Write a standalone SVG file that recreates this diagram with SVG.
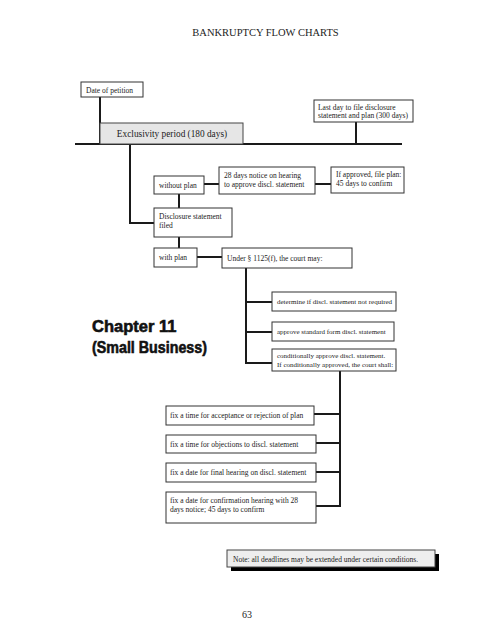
<svg xmlns="http://www.w3.org/2000/svg" width="495" height="640" viewBox="0 0 495 640">
<style>
.box{fill:#fff;stroke:#333;stroke-width:1}
.t{font-family:"Liberation Serif",serif;font-size:7.5px;fill:#222}
.s{font-size:7px}
.c{fill:none;stroke:#1a1a1a;stroke-width:2}
</style>
<rect width="495" height="640" fill="#fff"/>
<text x="265.5" y="36" text-anchor="middle" font-family="Liberation Serif, serif" font-size="10.5" fill="#222">BANKRUPTCY FLOW CHARTS</text>
<g id="connectors">
<line class="c" x1="75" y1="144" x2="402" y2="144" stroke-width="3"/>
<line class="c" x1="100" y1="97" x2="100" y2="144"/>
<line class="c" x1="356" y1="122" x2="356" y2="144"/>
<polyline class="c" points="130,144 130,223 154,223"/>
<line class="c" x1="204" y1="184" x2="219" y2="184"/>
<line class="c" x1="315" y1="184" x2="331" y2="184"/>
<line class="c" x1="179" y1="194" x2="179" y2="208"/>
<line class="c" x1="179" y1="237" x2="179" y2="248"/>
<line class="c" x1="197" y1="257" x2="222" y2="257"/>
<polyline class="c" points="246,268 246,363 272,363"/>
<line class="c" x1="246" y1="302" x2="272" y2="302"/>
<line class="c" x1="246" y1="332" x2="272" y2="332"/>
<polyline class="c" points="340,371 340,506 316,506"/>
<line class="c" x1="314" y1="414" x2="340" y2="414"/>
<line class="c" x1="316" y1="443" x2="340" y2="443"/>
<line class="c" x1="316" y1="472" x2="340" y2="472"/>
</g>
<g id="date-of-petition"><rect class="box" x="81" y="82" width="62" height="15"/><text class="t" x="86" y="92.5" font-size="8">Date of petition</text></g>
<g id="exclusivity"><rect x="100" y="123" width="143" height="21" fill="#e6e6e6" stroke="#444" stroke-width="1"/><text x="172" y="137" text-anchor="middle" font-family="Liberation Serif, serif" font-size="9.3" fill="#222">Exclusivity period (180 days)</text></g>
<g id="last-day"><rect class="box" x="314" y="100" width="99" height="22"/><text class="t" x="318" y="109.5">Last day to file disclosure</text><text class="t" x="318" y="118">statement and plan (300 days)</text></g>
<g id="without-plan"><rect class="box" x="154" y="176" width="50" height="18"/><text class="t" x="159" y="188">without plan</text></g>
<g id="notice"><rect class="box" x="219" y="167" width="96" height="27"/><text class="t" x="224" y="177.5">28 days notice on hearing</text><text class="t" x="224" y="186.5">to approve discl. statement</text></g>
<g id="if-approved"><rect class="box" x="331" y="167" width="73" height="26"/><text class="t" x="336" y="176.5" font-size="7.1">If approved, file plan:</text><text class="t" x="336" y="185.5" font-size="7.1">45 days to confirm</text></g>
<g id="disclosure"><rect class="box" x="154" y="208" width="78" height="29"/><text class="t" x="159" y="218.5">Disclosure statement</text><text class="t" x="159" y="227.5">filed</text></g>
<g id="with-plan"><rect class="box" x="154" y="248" width="43" height="19"/><text class="t" x="159" y="260">with plan</text></g>
<g id="under"><rect class="box" x="222" y="248" width="130" height="20"/><text class="t" x="227" y="260.5" font-size="7.7">Under § 1125(f), the court may:</text></g>
<g id="determine"><rect class="box" x="272" y="292" width="124" height="19"/><text class="t s" x="277" y="304">determine if discl. statement not required</text></g>
<g id="approve"><rect class="box" x="272" y="322" width="122" height="19"/><text class="t s" x="277" y="334">approve standard form discl. statement</text></g>
<g id="conditionally"><rect class="box" x="272" y="349" width="124" height="22"/><text class="t s" x="277" y="358">conditionally approve discl. statement.</text><text class="t s" x="277" y="367">If conditionally approved, the court shall:</text></g>
<g id="fix-acceptance"><rect class="box" x="166" y="406" width="148" height="19"/><text class="t" x="170" y="418">fix a time for acceptance or rejection of plan</text></g>
<g id="fix-objections"><rect class="box" x="166" y="435" width="150" height="18"/><text class="t" x="170" y="447">fix a time for objections to discl. statement</text></g>
<g id="fix-final"><rect class="box" x="166" y="463" width="150" height="19"/><text class="t" x="170" y="475">fix a date for final hearing on discl. statement</text></g>
<g id="fix-confirmation"><rect class="box" x="166" y="492" width="150" height="31"/><text class="t" x="170" y="502.5">fix a date for confirmation hearing with 28</text><text class="t" x="170" y="511.5">days notice; 45 days to confirm</text></g>
<g id="chapter-title"><text x="92" y="332" font-family="Liberation Sans, Arial, sans-serif" font-weight="bold" font-size="16.5" fill="#111" stroke="#111" stroke-width="0.6">Chapter 11</text><text x="92" y="353" font-family="Liberation Sans, Arial, sans-serif" font-weight="bold" font-size="16.5" fill="#111" stroke="#111" stroke-width="0.6" textLength="115" lengthAdjust="spacingAndGlyphs">(Small Business)</text></g>
<g id="note"><rect x="231" y="554" width="208" height="17" fill="#000"/><rect x="227" y="550" width="208" height="17" fill="#eee" stroke="#444" stroke-width="1"/><text class="t" x="233" y="561.5" font-size="7.6">Note: all deadlines may be extended under certain conditions.</text></g>
<text x="247" y="618" text-anchor="middle" font-family="Liberation Serif, serif" font-size="10" fill="#222">63</text>
</svg>
